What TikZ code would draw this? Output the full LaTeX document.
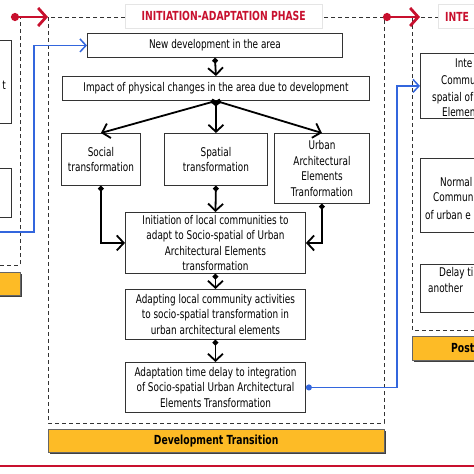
\documentclass[tikz,border=0pt]{standalone}
\usepackage{fontspec}
\setmainfont{DejaVu Sans}[FakeStretch=0.74]
\usepackage{xcolor}
\usepackage{tikz}
\usetikzlibrary{arrows.meta, positioning, shadows, calc}

\definecolor{phasered}{RGB}{200,16,46}
\definecolor{linkblue}{RGB}{51,102,221}
\definecolor{bandyellow}{RGB}{253,187,38}

\begin{document}
\begin{tikzpicture}[
    x=1pt, y=-1pt,
    stepbox/.style={rectangle, draw=black!80, line width=0.9pt, fill=white, anchor=north west, align=center, inner sep=1pt, font=\fontsize{12}{15.5}\selectfont},
    band/.style={rectangle, draw=black!60, fill=bandyellow, anchor=north west, minimum height=23pt, font=\bfseries\fontsize{12.5}{14}\selectfont, drop shadow={shadow xshift=2pt, shadow yshift=-2pt, fill=black!75, opacity=1}},
    phasetitle/.style={rectangle, draw=black!10, fill=white, anchor=north west, minimum height=24pt, text=phasered, font=\bfseries\fontsize{12.5}{14}\selectfont},
    phaseframe/.style={dash pattern=on 4pt off 3pt, draw=black!80, line width=0.8pt},
    flow/.style={line width=1.8pt, {Circle[length=5.5pt]}-{Straight Barb[length=7pt, width=15pt, line width=1.8pt]}},
    bluelink/.style={draw=linkblue, line width=1.5pt, -{Straight Barb[length=6pt, width=13pt, line width=1.5pt]}},
    phasearrow/.style={draw=phasered, line width=2.8pt, {Circle[length=8pt]}-{Straight Barb[length=8pt, width=18pt, line width=2.8pt]}},
    cuttext/.style={anchor=base west, inner sep=0pt, font=\fontsize{12}{15.5}\selectfont}
]

% Page area
\fill[white] (0,0) rectangle (474,474);
\clip (0,0) rectangle (474,474);

% Dashed phase frames
\draw[phaseframe] (0,265) -| (20,17);
\draw[phaseframe] (48,17) rectangle (384,423);
\draw[phaseframe] (474,17) -| (412,330) -- (474,330);

% Previous phase (cut off on the left)
\node[stepbox, minimum width=60pt, minimum height=83pt] (prevA) at (-49,40) {};
\node[cuttext, anchor=base east] at (6,89) {t};
\node[stepbox, minimum width=60pt, minimum height=49pt] (prevB) at (-49,168) {};
\node[band, minimum width=80pt] (prevband) at (-60,272) {};

% Initiation-adaptation phase
\node[stepbox, minimum width=255pt, minimum height=24pt] (newdev) at (87,33) {New development in the area};
\node[stepbox, minimum width=307pt, minimum height=24pt] (impact) at (62,76) {Impact of physical changes in the area due to development};

\node[stepbox, minimum width=79pt, minimum height=52pt] (social) at (61,133) {Social\\transformation};
\node[stepbox, minimum width=103pt, minimum height=52pt] (spatial) at (164,133) {Spatial\\transformation};
\node[stepbox, minimum width=95pt, minimum height=70pt] (urban) at (274,133) {Urban\\Architectural\\Elements\\Tranformation};

\node[stepbox, minimum width=180pt, minimum height=61pt] (init) at (125,212) {Initiation of local communities to\\adapt to Socio-spatial of Urban\\Architectural Elements\\transformation};
\node[stepbox, minimum width=180pt, minimum height=50pt] (adapting) at (125,289) {Adapting local community activities\\to socio-spatial transformation in\\urban architectural elements};
\node[stepbox, minimum width=180pt, minimum height=50pt] (delay) at (125,362) {Adaptation time delay to integration\\of Socio-spatial Urban Architectural\\Elements Transformation};

\node[band, minimum width=336pt] (devband) at (48,429) {Development Transition};

% Integration phase (cut off on the right)
\node[stepbox, minimum width=100pt, minimum height=65pt] (nextA) at (420,53) {};
\node[cuttext] at (455,67) {Inte};
\node[cuttext] at (441,84) {Commu};
\node[cuttext] at (432,101) {spatial of};
\node[cuttext] at (442,116) {Elemen};

\node[stepbox, minimum width=100pt, minimum height=74pt] (nextB) at (420,158) {};
\node[cuttext] at (440,186) {Normal};
\node[cuttext] at (433,201) {Commun};
\node[cuttext] at (425,219) {of urban e};

\node[stepbox, minimum width=100pt, minimum height=48pt] (nextC) at (420,264) {};
\node[cuttext] at (439,276) {Delay ti};
\node[cuttext] at (428,292) {another};

\node[band, minimum width=100pt, minimum height=24pt] (nextband) at (412,336) {};
\node[cuttext, font=\bfseries\fontsize{12.5}{14}\selectfont] at (451,352) {Post};

% Phase titles
\node[phasetitle, minimum width=197pt] (inittitle) at (125,4) {INITIATION-ADAPTATION PHASE};
\node[phasetitle, minimum width=60pt] (nexttitle) at (438,4) {};
\node[cuttext, text=phasered, font=\bfseries\fontsize{12.5}{14}\selectfont] at (445,21) {INTE};

% Phase shifts
\coordinate (shiftAstart) at (11,17);
\coordinate (shiftAend) at (48,17);
\coordinate (shiftBstart) at (383,17);
\coordinate (shiftBend) at (420,17);
\draw[phasearrow] (shiftAstart) -- (shiftAend);
\draw[phasearrow] (shiftBstart) -- (shiftBend);

% Flow arrows
\draw[flow] (newdev.south) -- (impact.north);
\draw[flow] (impact.south) -- (social.north);
\draw[flow] (impact.south) -- (spatial.north);
\draw[flow] (impact.south) -- (urban.north);
\draw[flow] (social.south) |- (init.west);
\draw[flow] (spatial.south) -- (init.north);
\draw[flow] (urban.south) |- (init.east);
\draw[flow] (init.south) -- (adapting.north);
\draw[flow] (adapting.south) -- (delay.north);

% Links between phases
\coordinate (prevout) at (0,232);
\draw[bluelink] (prevout) -- ++(34,0) |- (newdev.west);
\draw[bluelink, {Circle[length=6pt]}-{Straight Barb[length=6pt, width=13pt, line width=1.5pt]}] (delay.east) -- ++(91,0) |- (nextA.west);

% Bottom rule
\coordinate (ruleL) at (0,466);
\coordinate (ruleR) at (474,466);
\draw[phasered, line width=2.8pt] (ruleL) -- (ruleR);

\end{tikzpicture}
\end{document}
